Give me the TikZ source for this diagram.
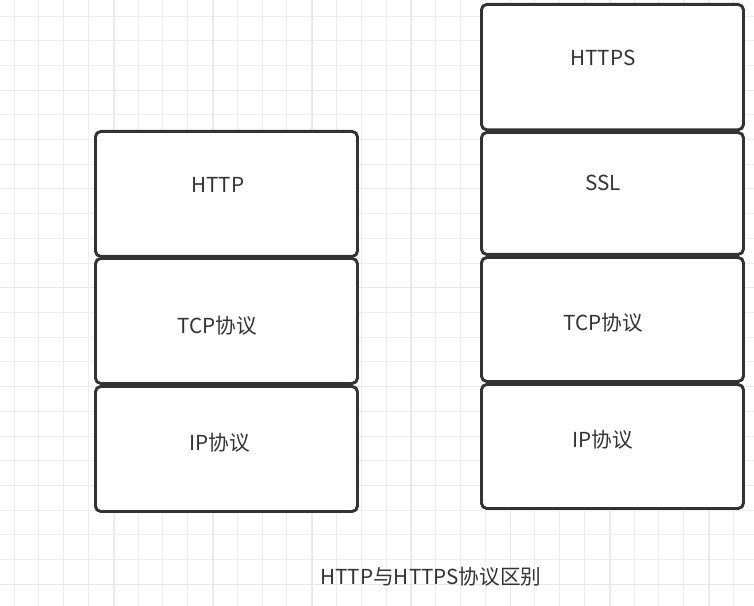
\documentclass[tikz,border=0pt]{standalone}
\usepackage{fontspec}
\setmainfont{Liberation Sans}
\newfontfamily\cjk{Noto Sans CJK SC}
\begin{document}
\begin{tikzpicture}[x=0.75pt,y=-0.75pt,
  layer/.style={draw=black!80,line width=2.2pt,rounded corners=4pt,fill=white,anchor=north west,inner sep=0pt,font=\cjk\fontsize{15.5}{17}\selectfont,text=black!80},
  lbl/.style={font=\cjk\fontsize{15.5}{17}\selectfont,text=black!80},
  captext/.style={font=\cjk\fontsize{15.5}{17}\selectfont,text=black!80}]
\useasboundingbox (0,0) rectangle (754,606);
\fill[white] (0,0) rectangle (754,606);
\foreach \i in {0,...,31} {
  \pgfmathsetmacro\xx{14+24.8*\i}
  \draw[black!7,line width=0.6pt] (\xx,0) -- (\xx,606);
}
\foreach \i in {0,...,25} {
  \pgfmathsetmacro\yy{16+24.7*\i}
  \draw[black!7,line width=0.6pt] (0,\yy) -- (754,\yy);
}
\foreach \i in {0,...,7} {
  \pgfmathsetmacro\xx{114+99.2*\i}
  \draw[black!9,line width=0.7pt] (\xx,0) -- (\xx,606);
}
\foreach \i in {0,...,6} {
  \pgfmathsetmacro\yy{90+98.8*\i}
  \draw[black!9,line width=0.7pt] (0,\yy) -- (754,\yy);
}
\node[layer,minimum width=196.5pt,minimum height=93.75pt] (http) at (94,130) {};
\node[layer,minimum width=196.5pt,minimum height=93.75pt] (tcp1) at (94,257) {};
\node[layer,minimum width=196.5pt,minimum height=93.75pt] (ip1) at (94,385) {};
\node[layer,minimum width=196.5pt,minimum height=94pt] (https) at (480,3) {};
\node[layer,minimum width=196.5pt,minimum height=91.5pt] (ssl) at (480,131) {};
\node[layer,minimum width=196.5pt,minimum height=93pt] (tcp2) at (480,256) {};
\node[layer,minimum width=196.5pt,minimum height=93pt] (ip2) at (480,383) {};
\node[lbl] (t1) at (218,185) {HTTP};
\node[lbl] (t2) at (217,326) {TCP协议};
\node[lbl] (t3) at (220,443) {IP协议};
\node[lbl] (t4) at (603,58) {HTTPS};
\node[lbl] (t5) at (603,183) {SSL};
\node[lbl] (t6) at (603,323) {TCP协议};
\node[lbl] (t7) at (603,440) {IP协议};
\node[captext] (caption) at (431,577) {HTTP与HTTPS协议区别};
\end{tikzpicture}
\end{document}
